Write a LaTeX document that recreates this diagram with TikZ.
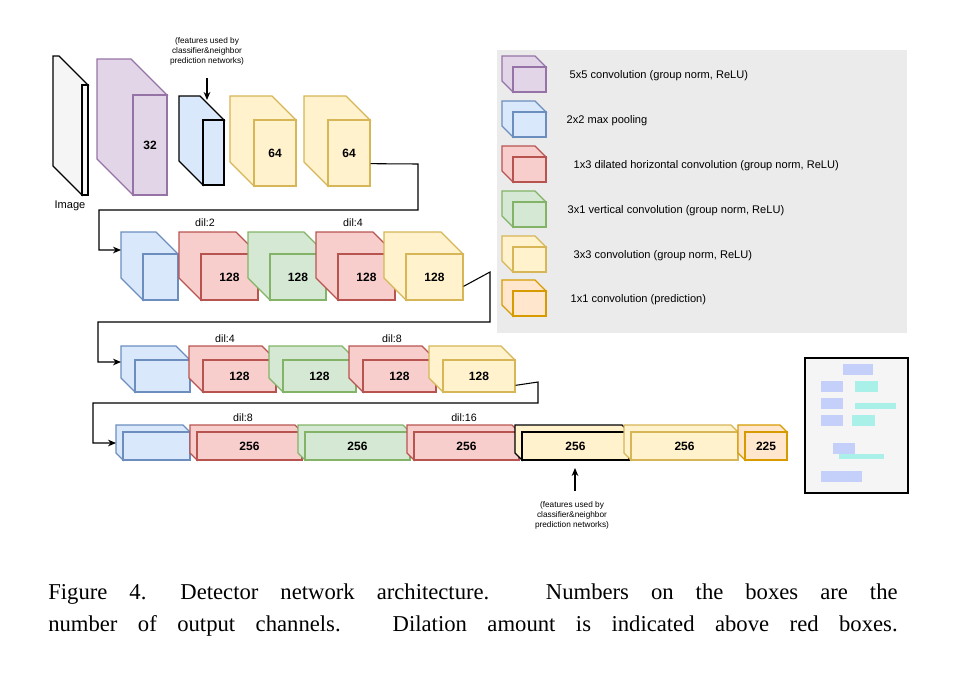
\documentclass[tikz,border=0pt]{standalone}
\usepackage{fontspec}
\setmainfont{Liberation Serif}
\newfontfamily\sansfam{Liberation Sans}
\usetikzlibrary{arrows.meta,calc}
\definecolor{pF}{HTML}{E1D5E7}\definecolor{pD}{HTML}{9673A6}
\definecolor{bF}{HTML}{DAE8FC}\definecolor{bD}{HTML}{6C8EBF}
\definecolor{rF}{HTML}{F8CECC}\definecolor{rD}{HTML}{B85450}
\definecolor{gF}{HTML}{D5E8D4}\definecolor{gD}{HTML}{82B366}
\definecolor{yF}{HTML}{FFF2CC}\definecolor{yD}{HTML}{D6B656}
\definecolor{oF}{HTML}{FFE6CC}\definecolor{oD}{HTML}{D79B00}
\definecolor{iB}{HTML}{C5D0FA}\definecolor{iT}{HTML}{A8F0E8}
\newcommand\cuboid[8]{%
  \draw[#7,line width=0.9pt] ({#2-#6},{#3-#6}) -- ({#4-#6},{#3-#6}) -- (#4,#3) -- (#2,#3) -- (#2,#5) -- ({#2-#6},{#5-#6}) -- cycle;
  \pgfmathsetmacro\cw{(#4-#2)*0.75}\pgfmathsetmacro\ch{(#5-#3)*0.75}
  \node[#7,line width=0.9pt,draw,inner sep=0,minimum width=\cw pt,minimum height=\ch pt,font=\sansfam\bfseries\fontsize{9}{10}\selectfont] (#1) at ({(#2+#4)/2},{(#3+#5)/2}) {#8};}
\begin{document}
\begin{tikzpicture}[x=0.75pt,y=-0.75pt,
  P/.style={fill=pF,draw=pD}, B/.style={fill=bF,draw=bD}, R/.style={fill=rF,draw=rD},
  G/.style={fill=gF,draw=gD}, Y/.style={fill=yF,draw=yD}, O/.style={fill=oF,draw=oD},
  K/.style={fill=bF,draw=black}, W/.style={fill=black!4,draw=black},
  YK/.style={fill=yF,draw=black},
  conn/.style={line width=0.8pt,-{Stealth[length=6pt,width=5pt]}},
  sm/.style={font=\sansfam\fontsize{6.2}{7.5}\selectfont,align=center},
  dl/.style={font=\sansfam\fontsize{8}{9}\selectfont},
  lg/.style={font=\sansfam\fontsize{8.3}{10}\selectfont,anchor=west}]
\useasboundingbox (0,0) rectangle (973,693);
% legend box
\fill[black!8] (497,50) rectangle (907,333);
% row 1
\cuboid{img}{82}{85}{88}{195}{29}{W}{}
\cuboid{c32}{133}{95}{167}{195}{36}{P}{32}
\cuboid{p1}{203}{120}{224}{185}{24}{K}{}
\cuboid{c64a}{254}{120}{296}{186}{24}{Y}{64}
\cuboid{c64b}{328}{120}{370}{186}{24}{Y}{64}
\node[font=\sansfam\fontsize{8.3}{10}\selectfont] (imgl) at (70,206) {Image};
\node[sm] (ann1) at (207,51) {(features used by\\classifier\&neighbor\\prediction networks)};
\coordinate (a1s) at (207,78);
\coordinate (a1e) at (207,100);
\draw[conn] (a1s) -- (a1e);
% row 2
\cuboid{p2}{143}{254}{178}{300}{22}{B}{}
\cuboid{r2a}{201}{254}{258}{300}{22}{R}{128}
\cuboid{g2}{270}{254}{326}{300}{22}{G}{128}
\cuboid{r2b}{338}{254}{395}{300}{22}{R}{128}
\cuboid{y2}{406}{254}{463}{300}{22}{Y}{128}
\node[dl] (d1) at (205,223) {dil:2};
\node[dl] (d2) at (353,223) {dil:4};
\coordinate (t2) at (121,250);
\draw[conn] ([yshift=-8pt]c64b.east) -- (418,164) -- (418,210) -- (99,210) -- (99,250) -- (t2);
% row 3
\cuboid{p3}{135}{360}{190}{392}{14}{B}{}
\cuboid{r3a}{203}{360}{276}{392}{14}{R}{128}
\cuboid{g3}{283}{360}{356}{392}{14}{G}{128}
\cuboid{r3b}{363}{360}{436}{392}{14}{R}{128}
\cuboid{y3}{443}{360}{515}{392}{14}{Y}{128}
\node[dl] (d3) at (225,339) {dil:4};
\node[dl] (d4) at (392,339) {dil:8};
\coordinate (t3) at (121,362);
\draw[conn] ([yshift=-7pt]y2.east) -- (490,272) -- (490,322) -- (98,322) -- (98,362) -- (t3);
% row 4
\cuboid{p4}{123}{432}{190}{460}{7}{B}{}
\cuboid{r4a}{197}{432}{302}{460}{7}{R}{256}
\cuboid{g4}{305}{432}{410}{460}{7}{G}{256}
\cuboid{r4b}{414}{432}{519}{460}{7}{R}{256}
\cuboid{y4a}{522}{432}{629}{460}{7}{YK}{256}
\cuboid{y4b}{631}{432}{738}{460}{7}{Y}{256}
\cuboid{o4}{745}{432}{787}{460}{7}{O}{225}
\node[dl] (d5) at (243,418) {dil:8};
\node[dl] (d6) at (464,418) {dil:16};
\coordinate (t4) at (116,443);
\draw[conn] ([yshift=-7pt]y3.east) -- (538,382) -- (538,403) -- (93,403) -- (93,443) -- (t4);
\node[sm] (ann2) at (572,515) {(features used by\\classifier\&neighbor\\prediction networks)};
\coordinate (a2s) at (575,491);
\coordinate (a2e) at (575,468);
\draw[conn] (a2s) -- (a2e);
% output panel
\draw[fill=black!4,line width=1pt] (805,358) rectangle (908,493);
\fill[iB] (843,364) rectangle (873,375);
\fill[iB] (821,381) rectangle (843,392); \fill[iT] (855,381) rectangle (878,392);
\fill[iB] (821,398) rectangle (843,409); \fill[iT] (855,403) rectangle (896,409);
\fill[iB] (821,415) rectangle (843,426); \fill[iT] (852,415) rectangle (875,426);
\fill[iB] (833,443) rectangle (855,454); \fill[iT] (839,454) rectangle (884,459);
\fill[iB] (821,471) rectangle (862,482);
% legend
\cuboid{l1}{513}{67}{546}{92}{11}{P}{}
\cuboid{l2}{513}{112}{546}{137}{11}{B}{}
\cuboid{l3}{513}{157}{546}{182}{11}{R}{}
\cuboid{l4}{513}{202}{546}{227}{11}{G}{}
\cuboid{l5}{513}{247}{546}{272}{11}{Y}{}
\cuboid{l6}{513}{291}{546}{316}{11}{O}{}
\node[lg] (t1) at (565,76) {5x5 convolution (group norm, ReLU)};
\node[lg] (tt2) at (562,121) {2x2 max pooling};
\node[lg] (tt3) at (569,166) {1x3 dilated horizontal convolution (group norm, ReLU)};
\node[lg] (tt4) at (563,211) {3x1 vertical convolution (group norm, ReLU)};
\node[lg] (tt5) at (569,256) {3x3 convolution (group norm, ReLU)};
\node[lg] (tt6) at (566,300) {1x1 convolution (prediction)};
% caption
\node[anchor=base west,inner sep=0,font=\fontsize{17}{20}\selectfont] (cap1) at (48,599) {\makebox[637pt][s]{Figure 4.\hspace{1.5em}Detector network architecture. Numbers on the boxes are the}};
\node[anchor=base west,inner sep=0,font=\fontsize{17}{20}\selectfont] (cap2) at (48,631) {\makebox[637pt][s]{number of output channels. Dilation amount is indicated above red boxes.}};
\end{tikzpicture}
\end{document}
